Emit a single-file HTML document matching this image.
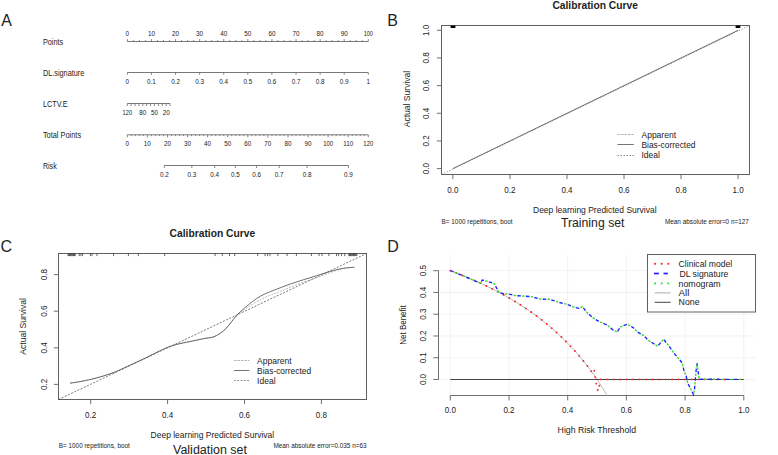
<!DOCTYPE html>
<html><head><meta charset="utf-8"><style>
html,body{margin:0;padding:0;background:#fff;}
body{width:778px;height:455px;overflow:hidden;}
svg{display:block;}
text{font-family:"Liberation Sans", sans-serif;fill:#222;}
</style></head><body>
<svg width="778" height="455" viewBox="0 0 778 455">
<rect width="778" height="455" fill="#fff"/>
<text x="1.20" y="25.70" font-size="16" textLength="10.60" lengthAdjust="spacingAndGlyphs" >A</text>
<text x="42.90" y="44.90" font-size="8.6" textLength="20.40" lengthAdjust="spacingAndGlyphs" >Points</text>
<text x="42.90" y="75.60" font-size="8.6" textLength="41.40" lengthAdjust="spacingAndGlyphs" >DL.signature</text>
<text x="42.90" y="106.80" font-size="8.6" textLength="24.80" lengthAdjust="spacingAndGlyphs" >LCTV.E</text>
<text x="42.90" y="138.00" font-size="8.6" textLength="38.20" lengthAdjust="spacingAndGlyphs" >Total Points</text>
<text x="42.90" y="168.80" font-size="8.6" textLength="13.80" lengthAdjust="spacingAndGlyphs" >Risk</text>
<line x1="127.35" y1="41.50" x2="368.30" y2="41.50" stroke="#6a6a6a" stroke-width="0.9" />
<line x1="127.35" y1="41.50" x2="127.35" y2="39.10" stroke="#6a6a6a" stroke-width="0.8" />
<text x="127.35" y="35.80" font-size="6.3" text-anchor="middle" >0</text>
<line x1="133.37" y1="41.50" x2="133.37" y2="40.10" stroke="#6a6a6a" stroke-width="0.8" />
<line x1="139.40" y1="41.50" x2="139.40" y2="40.10" stroke="#6a6a6a" stroke-width="0.8" />
<line x1="145.42" y1="41.50" x2="145.42" y2="40.10" stroke="#6a6a6a" stroke-width="0.8" />
<line x1="151.44" y1="41.50" x2="151.44" y2="39.10" stroke="#6a6a6a" stroke-width="0.8" />
<text x="151.44" y="35.80" font-size="6.3" text-anchor="middle" >10</text>
<line x1="157.47" y1="41.50" x2="157.47" y2="40.10" stroke="#6a6a6a" stroke-width="0.8" />
<line x1="163.49" y1="41.50" x2="163.49" y2="40.10" stroke="#6a6a6a" stroke-width="0.8" />
<line x1="169.52" y1="41.50" x2="169.52" y2="40.10" stroke="#6a6a6a" stroke-width="0.8" />
<line x1="175.54" y1="41.50" x2="175.54" y2="39.10" stroke="#6a6a6a" stroke-width="0.8" />
<text x="175.54" y="35.80" font-size="6.3" text-anchor="middle" >20</text>
<line x1="181.56" y1="41.50" x2="181.56" y2="40.10" stroke="#6a6a6a" stroke-width="0.8" />
<line x1="187.59" y1="41.50" x2="187.59" y2="40.10" stroke="#6a6a6a" stroke-width="0.8" />
<line x1="193.61" y1="41.50" x2="193.61" y2="40.10" stroke="#6a6a6a" stroke-width="0.8" />
<line x1="199.63" y1="41.50" x2="199.63" y2="39.10" stroke="#6a6a6a" stroke-width="0.8" />
<text x="199.63" y="35.80" font-size="6.3" text-anchor="middle" >30</text>
<line x1="205.66" y1="41.50" x2="205.66" y2="40.10" stroke="#6a6a6a" stroke-width="0.8" />
<line x1="211.68" y1="41.50" x2="211.68" y2="40.10" stroke="#6a6a6a" stroke-width="0.8" />
<line x1="217.71" y1="41.50" x2="217.71" y2="40.10" stroke="#6a6a6a" stroke-width="0.8" />
<line x1="223.73" y1="41.50" x2="223.73" y2="39.10" stroke="#6a6a6a" stroke-width="0.8" />
<text x="223.73" y="35.80" font-size="6.3" text-anchor="middle" >40</text>
<line x1="229.75" y1="41.50" x2="229.75" y2="40.10" stroke="#6a6a6a" stroke-width="0.8" />
<line x1="235.78" y1="41.50" x2="235.78" y2="40.10" stroke="#6a6a6a" stroke-width="0.8" />
<line x1="241.80" y1="41.50" x2="241.80" y2="40.10" stroke="#6a6a6a" stroke-width="0.8" />
<line x1="247.82" y1="41.50" x2="247.82" y2="39.10" stroke="#6a6a6a" stroke-width="0.8" />
<text x="247.82" y="35.80" font-size="6.3" text-anchor="middle" >50</text>
<line x1="253.85" y1="41.50" x2="253.85" y2="40.10" stroke="#6a6a6a" stroke-width="0.8" />
<line x1="259.87" y1="41.50" x2="259.87" y2="40.10" stroke="#6a6a6a" stroke-width="0.8" />
<line x1="265.90" y1="41.50" x2="265.90" y2="40.10" stroke="#6a6a6a" stroke-width="0.8" />
<line x1="271.92" y1="41.50" x2="271.92" y2="39.10" stroke="#6a6a6a" stroke-width="0.8" />
<text x="271.92" y="35.80" font-size="6.3" text-anchor="middle" >60</text>
<line x1="277.94" y1="41.50" x2="277.94" y2="40.10" stroke="#6a6a6a" stroke-width="0.8" />
<line x1="283.97" y1="41.50" x2="283.97" y2="40.10" stroke="#6a6a6a" stroke-width="0.8" />
<line x1="289.99" y1="41.50" x2="289.99" y2="40.10" stroke="#6a6a6a" stroke-width="0.8" />
<line x1="296.01" y1="41.50" x2="296.01" y2="39.10" stroke="#6a6a6a" stroke-width="0.8" />
<text x="296.01" y="35.80" font-size="6.3" text-anchor="middle" >70</text>
<line x1="302.04" y1="41.50" x2="302.04" y2="40.10" stroke="#6a6a6a" stroke-width="0.8" />
<line x1="308.06" y1="41.50" x2="308.06" y2="40.10" stroke="#6a6a6a" stroke-width="0.8" />
<line x1="314.09" y1="41.50" x2="314.09" y2="40.10" stroke="#6a6a6a" stroke-width="0.8" />
<line x1="320.11" y1="41.50" x2="320.11" y2="39.10" stroke="#6a6a6a" stroke-width="0.8" />
<text x="320.11" y="35.80" font-size="6.3" text-anchor="middle" >80</text>
<line x1="326.13" y1="41.50" x2="326.13" y2="40.10" stroke="#6a6a6a" stroke-width="0.8" />
<line x1="332.16" y1="41.50" x2="332.16" y2="40.10" stroke="#6a6a6a" stroke-width="0.8" />
<line x1="338.18" y1="41.50" x2="338.18" y2="40.10" stroke="#6a6a6a" stroke-width="0.8" />
<line x1="344.20" y1="41.50" x2="344.20" y2="39.10" stroke="#6a6a6a" stroke-width="0.8" />
<text x="344.20" y="35.80" font-size="6.3" text-anchor="middle" >90</text>
<line x1="350.23" y1="41.50" x2="350.23" y2="40.10" stroke="#6a6a6a" stroke-width="0.8" />
<line x1="356.25" y1="41.50" x2="356.25" y2="40.10" stroke="#6a6a6a" stroke-width="0.8" />
<line x1="362.28" y1="41.50" x2="362.28" y2="40.10" stroke="#6a6a6a" stroke-width="0.8" />
<line x1="368.30" y1="41.50" x2="368.30" y2="39.10" stroke="#6a6a6a" stroke-width="0.8" />
<text x="368.30" y="35.80" font-size="6.3" text-anchor="middle" textLength="9.20" lengthAdjust="spacingAndGlyphs" >100</text>
<line x1="127.35" y1="72.50" x2="368.30" y2="72.50" stroke="#6a6a6a" stroke-width="0.9" />
<line x1="127.35" y1="72.50" x2="127.35" y2="74.80" stroke="#6a6a6a" stroke-width="0.8" />
<text x="127.35" y="83.70" font-size="6.3" text-anchor="middle" >0</text>
<line x1="151.44" y1="72.50" x2="151.44" y2="74.80" stroke="#6a6a6a" stroke-width="0.8" />
<text x="151.44" y="83.70" font-size="6.3" text-anchor="middle" >0.1</text>
<line x1="175.54" y1="72.50" x2="175.54" y2="74.80" stroke="#6a6a6a" stroke-width="0.8" />
<text x="175.54" y="83.70" font-size="6.3" text-anchor="middle" >0.2</text>
<line x1="199.63" y1="72.50" x2="199.63" y2="74.80" stroke="#6a6a6a" stroke-width="0.8" />
<text x="199.63" y="83.70" font-size="6.3" text-anchor="middle" >0.3</text>
<line x1="223.73" y1="72.50" x2="223.73" y2="74.80" stroke="#6a6a6a" stroke-width="0.8" />
<text x="223.73" y="83.70" font-size="6.3" text-anchor="middle" >0.4</text>
<line x1="247.82" y1="72.50" x2="247.82" y2="74.80" stroke="#6a6a6a" stroke-width="0.8" />
<text x="247.82" y="83.70" font-size="6.3" text-anchor="middle" >0.5</text>
<line x1="271.92" y1="72.50" x2="271.92" y2="74.80" stroke="#6a6a6a" stroke-width="0.8" />
<text x="271.92" y="83.70" font-size="6.3" text-anchor="middle" >0.6</text>
<line x1="296.01" y1="72.50" x2="296.01" y2="74.80" stroke="#6a6a6a" stroke-width="0.8" />
<text x="296.01" y="83.70" font-size="6.3" text-anchor="middle" >0.7</text>
<line x1="320.11" y1="72.50" x2="320.11" y2="74.80" stroke="#6a6a6a" stroke-width="0.8" />
<text x="320.11" y="83.70" font-size="6.3" text-anchor="middle" >0.8</text>
<line x1="344.21" y1="72.50" x2="344.21" y2="74.80" stroke="#6a6a6a" stroke-width="0.8" />
<text x="344.21" y="83.70" font-size="6.3" text-anchor="middle" >0.9</text>
<line x1="368.30" y1="72.50" x2="368.30" y2="74.80" stroke="#6a6a6a" stroke-width="0.8" />
<text x="368.30" y="83.70" font-size="6.3" text-anchor="middle" >1</text>
<line x1="127.30" y1="103.50" x2="170.05" y2="103.50" stroke="#6a6a6a" stroke-width="0.9" />
<line x1="127.30" y1="103.50" x2="127.30" y2="106.00" stroke="#6a6a6a" stroke-width="0.8" />
<line x1="131.19" y1="103.50" x2="131.19" y2="106.00" stroke="#6a6a6a" stroke-width="0.8" />
<line x1="135.07" y1="103.50" x2="135.07" y2="106.00" stroke="#6a6a6a" stroke-width="0.8" />
<line x1="138.96" y1="103.50" x2="138.96" y2="106.00" stroke="#6a6a6a" stroke-width="0.8" />
<line x1="142.85" y1="103.50" x2="142.85" y2="106.00" stroke="#6a6a6a" stroke-width="0.8" />
<line x1="146.73" y1="103.50" x2="146.73" y2="106.00" stroke="#6a6a6a" stroke-width="0.8" />
<line x1="150.62" y1="103.50" x2="150.62" y2="106.00" stroke="#6a6a6a" stroke-width="0.8" />
<line x1="154.50" y1="103.50" x2="154.50" y2="106.00" stroke="#6a6a6a" stroke-width="0.8" />
<line x1="158.39" y1="103.50" x2="158.39" y2="106.00" stroke="#6a6a6a" stroke-width="0.8" />
<line x1="162.28" y1="103.50" x2="162.28" y2="106.00" stroke="#6a6a6a" stroke-width="0.8" />
<line x1="166.16" y1="103.50" x2="166.16" y2="106.00" stroke="#6a6a6a" stroke-width="0.8" />
<line x1="170.05" y1="103.50" x2="170.05" y2="106.00" stroke="#6a6a6a" stroke-width="0.8" />
<text x="127.30" y="114.70" font-size="6.3" text-anchor="middle" textLength="9.60" lengthAdjust="spacingAndGlyphs" >120</text>
<text x="142.85" y="114.70" font-size="6.3" text-anchor="middle" >80</text>
<text x="154.50" y="114.70" font-size="6.3" text-anchor="middle" >50</text>
<text x="166.16" y="114.70" font-size="6.3" text-anchor="middle" >20</text>
<line x1="127.30" y1="134.80" x2="368.30" y2="134.80" stroke="#6a6a6a" stroke-width="0.9" />
<line x1="127.30" y1="134.80" x2="127.30" y2="137.30" stroke="#6a6a6a" stroke-width="0.8" />
<text x="127.30" y="145.60" font-size="6.3" text-anchor="middle" >0</text>
<line x1="131.32" y1="134.80" x2="131.32" y2="136.10" stroke="#6a6a6a" stroke-width="0.8" />
<line x1="135.33" y1="134.80" x2="135.33" y2="136.10" stroke="#6a6a6a" stroke-width="0.8" />
<line x1="139.35" y1="134.80" x2="139.35" y2="136.10" stroke="#6a6a6a" stroke-width="0.8" />
<line x1="143.37" y1="134.80" x2="143.37" y2="136.10" stroke="#6a6a6a" stroke-width="0.8" />
<line x1="147.38" y1="134.80" x2="147.38" y2="137.30" stroke="#6a6a6a" stroke-width="0.8" />
<text x="147.38" y="145.60" font-size="6.3" text-anchor="middle" >10</text>
<line x1="151.40" y1="134.80" x2="151.40" y2="136.10" stroke="#6a6a6a" stroke-width="0.8" />
<line x1="155.42" y1="134.80" x2="155.42" y2="136.10" stroke="#6a6a6a" stroke-width="0.8" />
<line x1="159.43" y1="134.80" x2="159.43" y2="136.10" stroke="#6a6a6a" stroke-width="0.8" />
<line x1="163.45" y1="134.80" x2="163.45" y2="136.10" stroke="#6a6a6a" stroke-width="0.8" />
<line x1="167.47" y1="134.80" x2="167.47" y2="137.30" stroke="#6a6a6a" stroke-width="0.8" />
<text x="167.47" y="145.60" font-size="6.3" text-anchor="middle" >20</text>
<line x1="171.48" y1="134.80" x2="171.48" y2="136.10" stroke="#6a6a6a" stroke-width="0.8" />
<line x1="175.50" y1="134.80" x2="175.50" y2="136.10" stroke="#6a6a6a" stroke-width="0.8" />
<line x1="179.52" y1="134.80" x2="179.52" y2="136.10" stroke="#6a6a6a" stroke-width="0.8" />
<line x1="183.53" y1="134.80" x2="183.53" y2="136.10" stroke="#6a6a6a" stroke-width="0.8" />
<line x1="187.55" y1="134.80" x2="187.55" y2="137.30" stroke="#6a6a6a" stroke-width="0.8" />
<text x="187.55" y="145.60" font-size="6.3" text-anchor="middle" >30</text>
<line x1="191.57" y1="134.80" x2="191.57" y2="136.10" stroke="#6a6a6a" stroke-width="0.8" />
<line x1="195.58" y1="134.80" x2="195.58" y2="136.10" stroke="#6a6a6a" stroke-width="0.8" />
<line x1="199.60" y1="134.80" x2="199.60" y2="136.10" stroke="#6a6a6a" stroke-width="0.8" />
<line x1="203.62" y1="134.80" x2="203.62" y2="136.10" stroke="#6a6a6a" stroke-width="0.8" />
<line x1="207.63" y1="134.80" x2="207.63" y2="137.30" stroke="#6a6a6a" stroke-width="0.8" />
<text x="207.63" y="145.60" font-size="6.3" text-anchor="middle" >40</text>
<line x1="211.65" y1="134.80" x2="211.65" y2="136.10" stroke="#6a6a6a" stroke-width="0.8" />
<line x1="215.67" y1="134.80" x2="215.67" y2="136.10" stroke="#6a6a6a" stroke-width="0.8" />
<line x1="219.68" y1="134.80" x2="219.68" y2="136.10" stroke="#6a6a6a" stroke-width="0.8" />
<line x1="223.70" y1="134.80" x2="223.70" y2="136.10" stroke="#6a6a6a" stroke-width="0.8" />
<line x1="227.72" y1="134.80" x2="227.72" y2="137.30" stroke="#6a6a6a" stroke-width="0.8" />
<text x="227.72" y="145.60" font-size="6.3" text-anchor="middle" >50</text>
<line x1="231.73" y1="134.80" x2="231.73" y2="136.10" stroke="#6a6a6a" stroke-width="0.8" />
<line x1="235.75" y1="134.80" x2="235.75" y2="136.10" stroke="#6a6a6a" stroke-width="0.8" />
<line x1="239.77" y1="134.80" x2="239.77" y2="136.10" stroke="#6a6a6a" stroke-width="0.8" />
<line x1="243.78" y1="134.80" x2="243.78" y2="136.10" stroke="#6a6a6a" stroke-width="0.8" />
<line x1="247.80" y1="134.80" x2="247.80" y2="137.30" stroke="#6a6a6a" stroke-width="0.8" />
<text x="247.80" y="145.60" font-size="6.3" text-anchor="middle" >60</text>
<line x1="251.82" y1="134.80" x2="251.82" y2="136.10" stroke="#6a6a6a" stroke-width="0.8" />
<line x1="255.83" y1="134.80" x2="255.83" y2="136.10" stroke="#6a6a6a" stroke-width="0.8" />
<line x1="259.85" y1="134.80" x2="259.85" y2="136.10" stroke="#6a6a6a" stroke-width="0.8" />
<line x1="263.87" y1="134.80" x2="263.87" y2="136.10" stroke="#6a6a6a" stroke-width="0.8" />
<line x1="267.88" y1="134.80" x2="267.88" y2="137.30" stroke="#6a6a6a" stroke-width="0.8" />
<text x="267.88" y="145.60" font-size="6.3" text-anchor="middle" >70</text>
<line x1="271.90" y1="134.80" x2="271.90" y2="136.10" stroke="#6a6a6a" stroke-width="0.8" />
<line x1="275.92" y1="134.80" x2="275.92" y2="136.10" stroke="#6a6a6a" stroke-width="0.8" />
<line x1="279.93" y1="134.80" x2="279.93" y2="136.10" stroke="#6a6a6a" stroke-width="0.8" />
<line x1="283.95" y1="134.80" x2="283.95" y2="136.10" stroke="#6a6a6a" stroke-width="0.8" />
<line x1="287.97" y1="134.80" x2="287.97" y2="137.30" stroke="#6a6a6a" stroke-width="0.8" />
<text x="287.97" y="145.60" font-size="6.3" text-anchor="middle" >80</text>
<line x1="291.98" y1="134.80" x2="291.98" y2="136.10" stroke="#6a6a6a" stroke-width="0.8" />
<line x1="296.00" y1="134.80" x2="296.00" y2="136.10" stroke="#6a6a6a" stroke-width="0.8" />
<line x1="300.02" y1="134.80" x2="300.02" y2="136.10" stroke="#6a6a6a" stroke-width="0.8" />
<line x1="304.03" y1="134.80" x2="304.03" y2="136.10" stroke="#6a6a6a" stroke-width="0.8" />
<line x1="308.05" y1="134.80" x2="308.05" y2="137.30" stroke="#6a6a6a" stroke-width="0.8" />
<text x="308.05" y="145.60" font-size="6.3" text-anchor="middle" >90</text>
<line x1="312.07" y1="134.80" x2="312.07" y2="136.10" stroke="#6a6a6a" stroke-width="0.8" />
<line x1="316.08" y1="134.80" x2="316.08" y2="136.10" stroke="#6a6a6a" stroke-width="0.8" />
<line x1="320.10" y1="134.80" x2="320.10" y2="136.10" stroke="#6a6a6a" stroke-width="0.8" />
<line x1="324.12" y1="134.80" x2="324.12" y2="136.10" stroke="#6a6a6a" stroke-width="0.8" />
<line x1="328.13" y1="134.80" x2="328.13" y2="137.30" stroke="#6a6a6a" stroke-width="0.8" />
<text x="328.13" y="145.60" font-size="6.3" text-anchor="middle" textLength="9.90" lengthAdjust="spacingAndGlyphs" >100</text>
<line x1="332.15" y1="134.80" x2="332.15" y2="136.10" stroke="#6a6a6a" stroke-width="0.8" />
<line x1="336.17" y1="134.80" x2="336.17" y2="136.10" stroke="#6a6a6a" stroke-width="0.8" />
<line x1="340.18" y1="134.80" x2="340.18" y2="136.10" stroke="#6a6a6a" stroke-width="0.8" />
<line x1="344.20" y1="134.80" x2="344.20" y2="136.10" stroke="#6a6a6a" stroke-width="0.8" />
<line x1="348.22" y1="134.80" x2="348.22" y2="137.30" stroke="#6a6a6a" stroke-width="0.8" />
<text x="348.22" y="145.60" font-size="6.3" text-anchor="middle" textLength="9.90" lengthAdjust="spacingAndGlyphs" >110</text>
<line x1="352.23" y1="134.80" x2="352.23" y2="136.10" stroke="#6a6a6a" stroke-width="0.8" />
<line x1="356.25" y1="134.80" x2="356.25" y2="136.10" stroke="#6a6a6a" stroke-width="0.8" />
<line x1="360.27" y1="134.80" x2="360.27" y2="136.10" stroke="#6a6a6a" stroke-width="0.8" />
<line x1="364.28" y1="134.80" x2="364.28" y2="136.10" stroke="#6a6a6a" stroke-width="0.8" />
<line x1="368.30" y1="134.80" x2="368.30" y2="137.30" stroke="#6a6a6a" stroke-width="0.8" />
<text x="368.30" y="145.60" font-size="6.3" text-anchor="middle" textLength="9.90" lengthAdjust="spacingAndGlyphs" >120</text>
<line x1="164.30" y1="165.50" x2="348.50" y2="165.50" stroke="#6a6a6a" stroke-width="0.9" />
<line x1="164.30" y1="165.50" x2="164.30" y2="168.00" stroke="#6a6a6a" stroke-width="0.8" />
<text x="164.30" y="176.80" font-size="6.3" text-anchor="middle" >0.2</text>
<line x1="191.80" y1="165.50" x2="191.80" y2="168.00" stroke="#6a6a6a" stroke-width="0.8" />
<text x="191.80" y="176.80" font-size="6.3" text-anchor="middle" >0.3</text>
<line x1="214.70" y1="165.50" x2="214.70" y2="168.00" stroke="#6a6a6a" stroke-width="0.8" />
<text x="214.70" y="176.80" font-size="6.3" text-anchor="middle" >0.4</text>
<line x1="235.30" y1="165.50" x2="235.30" y2="168.00" stroke="#6a6a6a" stroke-width="0.8" />
<text x="235.30" y="176.80" font-size="6.3" text-anchor="middle" >0.5</text>
<line x1="256.60" y1="165.50" x2="256.60" y2="168.00" stroke="#6a6a6a" stroke-width="0.8" />
<text x="256.60" y="176.80" font-size="6.3" text-anchor="middle" >0.6</text>
<line x1="279.20" y1="165.50" x2="279.20" y2="168.00" stroke="#6a6a6a" stroke-width="0.8" />
<text x="279.20" y="176.80" font-size="6.3" text-anchor="middle" >0.7</text>
<line x1="307.10" y1="165.50" x2="307.10" y2="168.00" stroke="#6a6a6a" stroke-width="0.8" />
<text x="307.10" y="176.80" font-size="6.3" text-anchor="middle" >0.8</text>
<line x1="348.50" y1="165.50" x2="348.50" y2="168.00" stroke="#6a6a6a" stroke-width="0.8" />
<text x="348.50" y="176.80" font-size="6.3" text-anchor="middle" >0.9</text>
<text x="387.30" y="25.60" font-size="16" >B</text>
<text x="552.40" y="8.80" font-size="10.2" textLength="85.60" lengthAdjust="spacingAndGlyphs" font-weight="bold" fill="#111" >Calibration Curve</text>
<rect x="441.5" y="25.5" width="308.0" height="149.0" fill="none" stroke="#606060" stroke-width="1"/>
<line x1="441.50" y1="168.60" x2="436.90" y2="168.60" stroke="#606060" stroke-width="0.9" />
<text x="429.40" y="168.60" font-size="8.4" text-anchor="middle" textLength="11.20" lengthAdjust="spacingAndGlyphs" transform="rotate(-90 429.40 168.60)" >0.0</text>
<line x1="452.90" y1="174.50" x2="452.90" y2="179.10" stroke="#606060" stroke-width="0.9" />
<text x="452.90" y="192.90" font-size="8.4" text-anchor="middle" textLength="11.20" lengthAdjust="spacingAndGlyphs" >0.0</text>
<line x1="441.50" y1="140.94" x2="436.90" y2="140.94" stroke="#606060" stroke-width="0.9" />
<text x="429.40" y="140.94" font-size="8.4" text-anchor="middle" textLength="11.20" lengthAdjust="spacingAndGlyphs" transform="rotate(-90 429.40 140.94)" >0.2</text>
<line x1="509.94" y1="174.50" x2="509.94" y2="179.10" stroke="#606060" stroke-width="0.9" />
<text x="509.94" y="192.90" font-size="8.4" text-anchor="middle" textLength="11.20" lengthAdjust="spacingAndGlyphs" >0.2</text>
<line x1="441.50" y1="113.28" x2="436.90" y2="113.28" stroke="#606060" stroke-width="0.9" />
<text x="429.40" y="113.28" font-size="8.4" text-anchor="middle" textLength="11.20" lengthAdjust="spacingAndGlyphs" transform="rotate(-90 429.40 113.28)" >0.4</text>
<line x1="566.98" y1="174.50" x2="566.98" y2="179.10" stroke="#606060" stroke-width="0.9" />
<text x="566.98" y="192.90" font-size="8.4" text-anchor="middle" textLength="11.20" lengthAdjust="spacingAndGlyphs" >0.4</text>
<line x1="441.50" y1="85.62" x2="436.90" y2="85.62" stroke="#606060" stroke-width="0.9" />
<text x="429.40" y="85.62" font-size="8.4" text-anchor="middle" textLength="11.20" lengthAdjust="spacingAndGlyphs" transform="rotate(-90 429.40 85.62)" >0.6</text>
<line x1="624.02" y1="174.50" x2="624.02" y2="179.10" stroke="#606060" stroke-width="0.9" />
<text x="624.02" y="192.90" font-size="8.4" text-anchor="middle" textLength="11.20" lengthAdjust="spacingAndGlyphs" >0.6</text>
<line x1="441.50" y1="57.96" x2="436.90" y2="57.96" stroke="#606060" stroke-width="0.9" />
<text x="429.40" y="57.96" font-size="8.4" text-anchor="middle" textLength="11.20" lengthAdjust="spacingAndGlyphs" transform="rotate(-90 429.40 57.96)" >0.8</text>
<line x1="681.06" y1="174.50" x2="681.06" y2="179.10" stroke="#606060" stroke-width="0.9" />
<text x="681.06" y="192.90" font-size="8.4" text-anchor="middle" textLength="11.20" lengthAdjust="spacingAndGlyphs" >0.8</text>
<line x1="441.50" y1="30.30" x2="436.90" y2="30.30" stroke="#606060" stroke-width="0.9" />
<text x="429.40" y="30.30" font-size="8.4" text-anchor="middle" textLength="11.20" lengthAdjust="spacingAndGlyphs" transform="rotate(-90 429.40 30.30)" >1.0</text>
<line x1="738.10" y1="174.50" x2="738.10" y2="179.10" stroke="#606060" stroke-width="0.9" />
<text x="738.10" y="192.90" font-size="8.4" text-anchor="middle" textLength="11.20" lengthAdjust="spacingAndGlyphs" >1.0</text>
<text x="409.60" y="99.00" font-size="8.4" text-anchor="middle" textLength="56.50" lengthAdjust="spacingAndGlyphs" transform="rotate(-90 409.60 99.00)" >Actual Survival</text>
<text x="533.00" y="213.10" font-size="8.4" textLength="123.60" lengthAdjust="spacingAndGlyphs" >Deep learning Predicted Survival</text>
<text x="441.60" y="223.90" font-size="6.6" textLength="71.00" lengthAdjust="spacingAndGlyphs" >B= 1000 repetitions, boot</text>
<text x="560.90" y="226.90" font-size="12" textLength="63.60" lengthAdjust="spacingAndGlyphs" >Training set</text>
<text x="665.00" y="223.50" font-size="6.6" textLength="83.80" lengthAdjust="spacingAndGlyphs" >Mean absolute error=0 n=127</text>
<line x1="441.50" y1="174.50" x2="749.50" y2="25.50" stroke="#777" stroke-width="0.8" stroke-dasharray="1.2 1.6"/>
<line x1="452.90" y1="168.60" x2="738.10" y2="30.30" stroke="#555" stroke-width="0.85" />
<rect x="450.6" y="25.5" width="4.8" height="2.5" fill="#000"/>
<rect x="735.6" y="25.5" width="4.7" height="2.5" fill="#000"/>
<line x1="617.50" y1="134.50" x2="633.90" y2="134.50" stroke="#aaa" stroke-width="0.9" stroke-dasharray="2.5 1"/>
<text x="641.50" y="137.60" font-size="8.6" textLength="34.50" lengthAdjust="spacingAndGlyphs" >Apparent</text>
<line x1="617.50" y1="144.50" x2="633.90" y2="144.50" stroke="#666" stroke-width="0.9" />
<text x="641.50" y="147.90" font-size="8.6" textLength="54.00" lengthAdjust="spacingAndGlyphs" >Bias-corrected</text>
<line x1="617.50" y1="155.50" x2="633.90" y2="155.50" stroke="#888" stroke-width="1.1" stroke-dasharray="1.5 1.5"/>
<text x="641.50" y="158.20" font-size="8.6" textLength="18.50" lengthAdjust="spacingAndGlyphs" >Ideal</text>
<text x="0.60" y="251.70" font-size="16" >C</text>
<text x="169.60" y="237.40" font-size="10.2" textLength="85.60" lengthAdjust="spacingAndGlyphs" font-weight="bold" fill="#111" >Calibration Curve</text>
<rect x="58.5" y="253.5" width="308.0" height="146.0" fill="none" stroke="#606060" stroke-width="1"/>
<line x1="58.50" y1="384.40" x2="53.90" y2="384.40" stroke="#606060" stroke-width="0.9" />
<text x="46.60" y="384.40" font-size="8.4" text-anchor="middle" textLength="11.20" lengthAdjust="spacingAndGlyphs" transform="rotate(-90 46.60 384.40)" >0.2</text>
<line x1="90.70" y1="399.50" x2="90.70" y2="404.10" stroke="#606060" stroke-width="0.9" />
<text x="90.70" y="418.00" font-size="8.4" text-anchor="middle" textLength="11.20" lengthAdjust="spacingAndGlyphs" >0.2</text>
<line x1="58.50" y1="347.80" x2="53.90" y2="347.80" stroke="#606060" stroke-width="0.9" />
<text x="46.60" y="347.80" font-size="8.4" text-anchor="middle" textLength="11.20" lengthAdjust="spacingAndGlyphs" transform="rotate(-90 46.60 347.80)" >0.4</text>
<line x1="167.60" y1="399.50" x2="167.60" y2="404.10" stroke="#606060" stroke-width="0.9" />
<text x="167.60" y="418.00" font-size="8.4" text-anchor="middle" textLength="11.20" lengthAdjust="spacingAndGlyphs" >0.4</text>
<line x1="58.50" y1="311.20" x2="53.90" y2="311.20" stroke="#606060" stroke-width="0.9" />
<text x="46.60" y="311.20" font-size="8.4" text-anchor="middle" textLength="11.20" lengthAdjust="spacingAndGlyphs" transform="rotate(-90 46.60 311.20)" >0.6</text>
<line x1="244.50" y1="399.50" x2="244.50" y2="404.10" stroke="#606060" stroke-width="0.9" />
<text x="244.50" y="418.00" font-size="8.4" text-anchor="middle" textLength="11.20" lengthAdjust="spacingAndGlyphs" >0.6</text>
<line x1="58.50" y1="274.60" x2="53.90" y2="274.60" stroke="#606060" stroke-width="0.9" />
<text x="46.60" y="274.60" font-size="8.4" text-anchor="middle" textLength="11.20" lengthAdjust="spacingAndGlyphs" transform="rotate(-90 46.60 274.60)" >0.8</text>
<line x1="321.40" y1="399.50" x2="321.40" y2="404.10" stroke="#606060" stroke-width="0.9" />
<text x="321.40" y="418.00" font-size="8.4" text-anchor="middle" textLength="11.20" lengthAdjust="spacingAndGlyphs" >0.8</text>
<text x="26.10" y="326.40" font-size="8.4" text-anchor="middle" textLength="56.50" lengthAdjust="spacingAndGlyphs" transform="rotate(-90 26.10 326.40)" >Actual Survival</text>
<text x="150.60" y="438.10" font-size="8.4" textLength="123.60" lengthAdjust="spacingAndGlyphs" >Deep learning Predicted Survival</text>
<text x="58.80" y="448.00" font-size="6.6" textLength="71.00" lengthAdjust="spacingAndGlyphs" >B= 1000 repetitions, boot</text>
<text x="173.00" y="453.80" font-size="12" textLength="74.00" lengthAdjust="spacingAndGlyphs" >Validation set</text>
<text x="273.40" y="447.50" font-size="6.6" textLength="93.20" lengthAdjust="spacingAndGlyphs" >Mean absolute error=0.035 n=63</text>
<line x1="58.50" y1="399.50" x2="366.50" y2="253.50" stroke="#555" stroke-width="0.8" stroke-dasharray="2 1.5"/>
<path d="M70.00,383.20 C71.67,382.93 76.53,382.23 80.00,381.60 C83.47,380.97 87.13,380.27 90.80,379.40 C94.47,378.53 98.13,377.57 102.00,376.40 C105.87,375.23 110.20,373.87 114.00,372.40 C117.80,370.93 119.67,369.95 124.80,367.60 C129.93,365.25 138.12,361.48 144.80,358.30 C151.48,355.12 159.43,350.85 164.90,348.50 C170.37,346.15 172.58,345.53 177.60,344.20 C182.62,342.87 190.43,341.47 195.00,340.50 C199.57,339.53 202.02,338.97 205.00,338.40 C207.98,337.83 210.48,337.87 212.90,337.10 C215.32,336.33 217.30,335.23 219.50,333.80 C221.70,332.37 224.12,330.48 226.10,328.50 C228.08,326.52 229.53,324.07 231.40,321.90 C233.27,319.73 235.12,317.55 237.30,315.50 C239.48,313.45 241.97,311.48 244.50,309.60 C247.03,307.72 249.08,306.23 252.50,304.20 C255.92,302.17 260.77,299.38 265.00,297.40 C269.23,295.42 273.62,294.02 277.90,292.30 C282.18,290.58 286.42,288.82 290.70,287.10 C294.98,285.38 299.32,283.53 303.60,282.00 C307.88,280.47 312.12,279.40 316.40,277.90 C320.68,276.40 325.02,274.52 329.30,273.00 C333.58,271.48 337.93,269.77 342.10,268.80 C346.27,267.83 352.27,267.47 354.30,267.20" fill="none" stroke="#aaa" stroke-width="0.8" stroke-dasharray="2 1.2"/>
<path d="M70.00,383.20 C71.67,382.93 76.53,382.23 80.00,381.60 C83.47,380.97 87.13,380.27 90.80,379.40 C94.47,378.53 98.13,377.57 102.00,376.40 C105.87,375.23 110.20,373.87 114.00,372.40 C117.80,370.93 119.67,369.95 124.80,367.60 C129.93,365.25 138.12,361.48 144.80,358.30 C151.48,355.12 159.43,350.85 164.90,348.50 C170.37,346.15 172.58,345.53 177.60,344.20 C182.62,342.87 190.43,341.47 195.00,340.50 C199.57,339.53 202.02,338.97 205.00,338.40 C207.98,337.83 210.48,337.87 212.90,337.10 C215.32,336.33 217.30,335.23 219.50,333.80 C221.70,332.37 224.12,330.48 226.10,328.50 C228.08,326.52 229.53,324.20 231.40,321.90 C233.27,319.60 235.12,317.00 237.30,314.70 C239.48,312.40 241.97,310.30 244.50,308.10 C247.03,305.90 249.85,303.48 252.50,301.50 C255.15,299.52 257.77,297.70 260.40,296.20 C263.03,294.70 265.38,293.75 268.30,292.50 C271.22,291.25 274.17,290.13 277.90,288.70 C281.63,287.27 286.42,285.40 290.70,283.90 C294.98,282.40 299.32,281.05 303.60,279.70 C307.88,278.35 312.12,277.13 316.40,275.80 C320.68,274.47 325.02,272.92 329.30,271.70 C333.58,270.48 337.93,269.25 342.10,268.50 C346.27,267.75 352.27,267.42 354.30,267.20" fill="none" stroke="#555" stroke-width="0.85" />
<line x1="68.00" y1="253.50" x2="68.00" y2="256.10" stroke="#222" stroke-width="0.7" />
<line x1="68.80" y1="253.50" x2="68.80" y2="256.10" stroke="#222" stroke-width="0.7" />
<line x1="69.60" y1="253.50" x2="69.60" y2="256.10" stroke="#222" stroke-width="0.7" />
<line x1="70.40" y1="253.50" x2="70.40" y2="256.10" stroke="#222" stroke-width="0.7" />
<line x1="71.20" y1="253.50" x2="71.20" y2="256.10" stroke="#222" stroke-width="0.7" />
<line x1="72.00" y1="253.50" x2="72.00" y2="256.10" stroke="#222" stroke-width="0.7" />
<line x1="72.80" y1="253.50" x2="72.80" y2="256.10" stroke="#222" stroke-width="0.7" />
<line x1="73.60" y1="253.50" x2="73.60" y2="256.10" stroke="#222" stroke-width="0.7" />
<line x1="74.40" y1="253.50" x2="74.40" y2="256.10" stroke="#222" stroke-width="0.7" />
<line x1="75.20" y1="253.50" x2="75.20" y2="256.10" stroke="#222" stroke-width="0.7" />
<line x1="79.30" y1="253.50" x2="79.30" y2="256.10" stroke="#222" stroke-width="0.7" />
<line x1="80.90" y1="253.50" x2="80.90" y2="256.10" stroke="#222" stroke-width="0.7" />
<line x1="82.60" y1="253.50" x2="82.60" y2="256.10" stroke="#222" stroke-width="0.7" />
<line x1="90.40" y1="253.50" x2="90.40" y2="256.10" stroke="#222" stroke-width="0.7" />
<line x1="92.00" y1="253.50" x2="92.00" y2="256.10" stroke="#222" stroke-width="0.7" />
<line x1="97.00" y1="253.50" x2="97.00" y2="256.10" stroke="#222" stroke-width="0.7" />
<line x1="113.60" y1="253.50" x2="113.60" y2="256.10" stroke="#222" stroke-width="0.7" />
<line x1="128.40" y1="253.50" x2="128.40" y2="256.10" stroke="#222" stroke-width="0.7" />
<line x1="138.30" y1="253.50" x2="138.30" y2="256.10" stroke="#222" stroke-width="0.7" />
<line x1="164.60" y1="253.50" x2="164.60" y2="256.10" stroke="#222" stroke-width="0.7" />
<line x1="215.10" y1="253.50" x2="215.10" y2="256.10" stroke="#222" stroke-width="0.7" />
<line x1="222.30" y1="253.50" x2="222.30" y2="256.10" stroke="#222" stroke-width="0.7" />
<line x1="229.50" y1="253.50" x2="229.50" y2="256.10" stroke="#222" stroke-width="0.7" />
<line x1="234.70" y1="253.50" x2="234.70" y2="256.10" stroke="#222" stroke-width="0.7" />
<line x1="257.70" y1="253.50" x2="257.70" y2="256.10" stroke="#222" stroke-width="0.7" />
<line x1="265.10" y1="253.50" x2="265.10" y2="256.10" stroke="#222" stroke-width="0.7" />
<line x1="267.60" y1="253.50" x2="267.60" y2="256.10" stroke="#222" stroke-width="0.7" />
<line x1="270.00" y1="253.50" x2="270.00" y2="256.10" stroke="#222" stroke-width="0.7" />
<line x1="277.90" y1="253.50" x2="277.90" y2="256.10" stroke="#222" stroke-width="0.7" />
<line x1="287.10" y1="253.50" x2="287.10" y2="256.10" stroke="#222" stroke-width="0.7" />
<line x1="296.40" y1="253.50" x2="296.40" y2="256.10" stroke="#222" stroke-width="0.7" />
<line x1="311.40" y1="253.50" x2="311.40" y2="256.10" stroke="#222" stroke-width="0.7" />
<line x1="319.00" y1="253.50" x2="319.00" y2="256.10" stroke="#222" stroke-width="0.7" />
<line x1="322.00" y1="253.50" x2="322.00" y2="256.10" stroke="#222" stroke-width="0.7" />
<line x1="328.90" y1="253.50" x2="328.90" y2="256.10" stroke="#222" stroke-width="0.7" />
<line x1="336.50" y1="253.50" x2="336.50" y2="256.10" stroke="#222" stroke-width="0.7" />
<line x1="338.60" y1="253.50" x2="338.60" y2="256.10" stroke="#222" stroke-width="0.7" />
<line x1="341.60" y1="253.50" x2="341.60" y2="256.10" stroke="#222" stroke-width="0.7" />
<line x1="344.70" y1="253.50" x2="344.70" y2="256.10" stroke="#222" stroke-width="0.7" />
<line x1="348.80" y1="253.50" x2="348.80" y2="256.10" stroke="#222" stroke-width="0.7" />
<line x1="349.60" y1="253.50" x2="349.60" y2="256.10" stroke="#222" stroke-width="0.7" />
<line x1="350.40" y1="253.50" x2="350.40" y2="256.10" stroke="#222" stroke-width="0.7" />
<line x1="351.20" y1="253.50" x2="351.20" y2="256.10" stroke="#222" stroke-width="0.7" />
<line x1="352.00" y1="253.50" x2="352.00" y2="256.10" stroke="#222" stroke-width="0.7" />
<line x1="352.80" y1="253.50" x2="352.80" y2="256.10" stroke="#222" stroke-width="0.7" />
<line x1="353.60" y1="253.50" x2="353.60" y2="256.10" stroke="#222" stroke-width="0.7" />
<line x1="354.40" y1="253.50" x2="354.40" y2="256.10" stroke="#222" stroke-width="0.7" />
<line x1="355.20" y1="253.50" x2="355.20" y2="256.10" stroke="#222" stroke-width="0.7" />
<line x1="356.00" y1="253.50" x2="356.00" y2="256.10" stroke="#222" stroke-width="0.7" />
<line x1="356.80" y1="253.50" x2="356.80" y2="256.10" stroke="#222" stroke-width="0.7" />
<line x1="233.90" y1="360.50" x2="249.30" y2="360.50" stroke="#aaa" stroke-width="0.9" stroke-dasharray="2.5 1"/>
<text x="257.10" y="363.90" font-size="8.6" textLength="34.50" lengthAdjust="spacingAndGlyphs" >Apparent</text>
<line x1="233.90" y1="370.50" x2="249.30" y2="370.50" stroke="#666" stroke-width="0.9" />
<text x="257.10" y="374.00" font-size="8.6" textLength="54.00" lengthAdjust="spacingAndGlyphs" >Bias-corrected</text>
<line x1="233.90" y1="380.50" x2="249.30" y2="380.50" stroke="#888" stroke-width="0.9" stroke-dasharray="2 1.3"/>
<text x="257.10" y="384.10" font-size="8.6" textLength="18.50" lengthAdjust="spacingAndGlyphs" >Ideal</text>
<text x="387.30" y="251.50" font-size="16" >D</text>
<line x1="450.30" y1="254.40" x2="450.30" y2="395.50" stroke="#efefef" stroke-width="0.8" />
<line x1="438.50" y1="379.50" x2="755.50" y2="379.50" stroke="#efefef" stroke-width="0.8" />
<line x1="509.00" y1="254.40" x2="509.00" y2="395.50" stroke="#efefef" stroke-width="0.8" />
<line x1="438.50" y1="357.74" x2="755.50" y2="357.74" stroke="#efefef" stroke-width="0.8" />
<line x1="567.70" y1="254.40" x2="567.70" y2="395.50" stroke="#efefef" stroke-width="0.8" />
<line x1="438.50" y1="335.98" x2="755.50" y2="335.98" stroke="#efefef" stroke-width="0.8" />
<line x1="626.40" y1="254.40" x2="626.40" y2="395.50" stroke="#efefef" stroke-width="0.8" />
<line x1="438.50" y1="314.22" x2="755.50" y2="314.22" stroke="#efefef" stroke-width="0.8" />
<line x1="685.10" y1="254.40" x2="685.10" y2="395.50" stroke="#efefef" stroke-width="0.8" />
<line x1="438.50" y1="292.46" x2="755.50" y2="292.46" stroke="#efefef" stroke-width="0.8" />
<line x1="743.80" y1="254.40" x2="743.80" y2="395.50" stroke="#efefef" stroke-width="0.8" />
<line x1="438.50" y1="270.70" x2="755.50" y2="270.70" stroke="#efefef" stroke-width="0.8" />
<line x1="438.50" y1="379.50" x2="438.50" y2="270.70" stroke="#606060" stroke-width="0.9" />
<line x1="438.50" y1="379.50" x2="433.30" y2="379.50" stroke="#606060" stroke-width="0.9" />
<text x="426.30" y="379.50" font-size="8.4" text-anchor="middle" textLength="11.20" lengthAdjust="spacingAndGlyphs" transform="rotate(-90 426.30 379.50)" >0.0</text>
<line x1="438.50" y1="357.74" x2="433.30" y2="357.74" stroke="#606060" stroke-width="0.9" />
<text x="426.30" y="357.74" font-size="8.4" text-anchor="middle" textLength="11.20" lengthAdjust="spacingAndGlyphs" transform="rotate(-90 426.30 357.74)" >0.1</text>
<line x1="438.50" y1="335.98" x2="433.30" y2="335.98" stroke="#606060" stroke-width="0.9" />
<text x="426.30" y="335.98" font-size="8.4" text-anchor="middle" textLength="11.20" lengthAdjust="spacingAndGlyphs" transform="rotate(-90 426.30 335.98)" >0.2</text>
<line x1="438.50" y1="314.22" x2="433.30" y2="314.22" stroke="#606060" stroke-width="0.9" />
<text x="426.30" y="314.22" font-size="8.4" text-anchor="middle" textLength="11.20" lengthAdjust="spacingAndGlyphs" transform="rotate(-90 426.30 314.22)" >0.3</text>
<line x1="438.50" y1="292.46" x2="433.30" y2="292.46" stroke="#606060" stroke-width="0.9" />
<text x="426.30" y="292.46" font-size="8.4" text-anchor="middle" textLength="11.20" lengthAdjust="spacingAndGlyphs" transform="rotate(-90 426.30 292.46)" >0.4</text>
<line x1="438.50" y1="270.70" x2="433.30" y2="270.70" stroke="#606060" stroke-width="0.9" />
<text x="426.30" y="270.70" font-size="8.4" text-anchor="middle" textLength="11.20" lengthAdjust="spacingAndGlyphs" transform="rotate(-90 426.30 270.70)" >0.5</text>
<line x1="450.30" y1="395.50" x2="743.80" y2="395.50" stroke="#606060" stroke-width="0.9" />
<line x1="450.30" y1="395.50" x2="450.30" y2="400.40" stroke="#606060" stroke-width="0.9" />
<text x="450.30" y="413.10" font-size="8.4" text-anchor="middle" textLength="11.20" lengthAdjust="spacingAndGlyphs" >0.0</text>
<line x1="509.00" y1="395.50" x2="509.00" y2="400.40" stroke="#606060" stroke-width="0.9" />
<text x="509.00" y="413.10" font-size="8.4" text-anchor="middle" textLength="11.20" lengthAdjust="spacingAndGlyphs" >0.2</text>
<line x1="567.70" y1="395.50" x2="567.70" y2="400.40" stroke="#606060" stroke-width="0.9" />
<text x="567.70" y="413.10" font-size="8.4" text-anchor="middle" textLength="11.20" lengthAdjust="spacingAndGlyphs" >0.4</text>
<line x1="626.40" y1="395.50" x2="626.40" y2="400.40" stroke="#606060" stroke-width="0.9" />
<text x="626.40" y="413.10" font-size="8.4" text-anchor="middle" textLength="11.20" lengthAdjust="spacingAndGlyphs" >0.6</text>
<line x1="685.10" y1="395.50" x2="685.10" y2="400.40" stroke="#606060" stroke-width="0.9" />
<text x="685.10" y="413.10" font-size="8.4" text-anchor="middle" textLength="11.20" lengthAdjust="spacingAndGlyphs" >0.8</text>
<line x1="743.80" y1="395.50" x2="743.80" y2="400.40" stroke="#606060" stroke-width="0.9" />
<text x="743.80" y="413.10" font-size="8.4" text-anchor="middle" textLength="11.20" lengthAdjust="spacingAndGlyphs" >1.0</text>
<text x="405.70" y="325.00" font-size="8.8" text-anchor="middle" textLength="39.50" lengthAdjust="spacingAndGlyphs" transform="rotate(-90 405.70 325.00)" >Net Benefit</text>
<text x="557.60" y="432.80" font-size="8.4" textLength="78.50" lengthAdjust="spacingAndGlyphs" >High Risk Threshold</text>
<polyline points="450.30,270.70 451.77,271.25 453.24,271.80 454.70,272.36 456.17,272.92 457.64,273.49 459.11,274.06 460.57,274.65 462.04,275.23 463.51,275.83 464.98,276.43 466.44,277.03 467.91,277.64 469.38,278.26 470.85,278.89 472.31,279.52 473.78,280.16 475.25,280.81 476.72,281.46 478.18,282.12 479.65,282.79 481.12,283.46 482.59,284.15 484.05,284.84 485.52,285.54 486.99,286.24 488.46,286.96 489.92,287.68 491.39,288.41 492.86,289.15 494.33,289.90 495.79,290.66 497.26,291.42 498.73,292.20 500.20,292.98 501.66,293.78 503.13,294.58 504.60,295.40 506.07,296.22 507.53,297.06 509.00,297.90 510.47,298.76 511.94,299.62 513.40,300.50 514.87,301.39 516.34,302.29 517.81,303.20 519.27,304.12 520.74,305.06 522.21,306.01 523.68,306.97 525.14,307.94 526.61,308.93 528.08,309.93 529.55,310.94 531.01,311.97 532.48,313.01 533.95,314.07 535.42,315.14 536.88,316.23 538.35,317.33 539.82,318.45 541.29,319.58 542.75,320.73 544.22,321.90 545.69,323.09 547.16,324.29 548.62,325.51 550.09,326.75 551.56,328.01 553.03,329.28 554.49,330.58 555.96,331.90 557.43,333.24 558.90,334.60 560.36,335.98 561.83,337.38 563.30,338.81 564.77,340.26 566.23,341.73 567.70,343.23 569.17,344.76 570.64,346.31 572.10,347.88 573.57,349.49 575.04,351.12 576.51,352.78 577.97,354.47 579.44,356.19 580.91,357.94 582.38,359.72 583.84,361.53 585.31,363.38 586.78,365.26 588.25,367.18 589.71,369.14 591.18,371.13 592.65,373.16 594.12,375.23 595.58,377.35 597.05,379.50 598.52,381.70 599.99,383.94 601.45,386.23 602.92,388.57 604.39,390.95 605.86,393.39 607.10,395.50" fill="none" stroke="#bbb" stroke-width="1.0" />
<line x1="450.30" y1="379.50" x2="743.80" y2="379.50" stroke="#444" stroke-width="1.0" />
<polyline points="450.30,270.70 451.77,271.25 453.24,271.80 454.70,272.36 456.17,272.92 457.64,273.49 459.11,274.06 460.57,274.65 462.04,275.23 463.51,275.83 464.98,276.43 466.44,277.03 467.91,277.64 469.38,278.26 470.85,278.89 472.31,279.52 473.78,280.16 475.25,280.81 476.72,281.46 478.18,282.12 479.65,282.79 481.12,283.46 482.59,284.15 484.05,284.84 485.52,285.54 486.99,286.24 488.46,286.96 489.92,287.68 491.39,288.41 492.86,289.15 494.33,289.90 495.79,290.66 497.26,291.42 498.73,292.20 500.20,292.98 501.66,293.78 503.13,294.58 504.60,295.40 506.07,296.22 507.53,297.06 509.00,297.90 510.47,298.76 511.94,299.62 513.40,300.50 514.87,301.39 516.34,302.29 517.81,303.20 519.27,304.12 520.74,305.06 522.21,306.01 523.68,306.97 525.14,307.94 526.61,308.93 528.08,309.93 529.55,310.94 531.01,311.97 532.48,313.01 533.95,314.07 535.42,315.14 536.88,316.23 538.35,317.33 539.82,318.45 541.29,319.58 542.75,320.73 544.22,321.90 545.69,323.09 547.16,324.29 548.62,325.51 550.09,326.75 551.56,328.01 553.03,329.28 554.49,330.58 555.96,331.90 557.43,333.24 558.90,334.60 560.36,335.98 561.83,337.38 563.30,338.81 564.77,340.26 566.23,341.73 567.70,343.23 569.17,344.76 570.64,346.31 572.10,347.88 573.57,349.49 575.04,351.12 576.51,352.78 577.97,354.47 579.44,356.19 580.91,357.94 582.38,359.72 583.84,361.53 585.31,363.38 586.78,365.26 588.25,367.18 589.71,369.14 591.18,371.13 592.65,373.16 594.20,370.10 596.00,382.50 597.20,388.60 598.20,391.00 599.60,384.50 600.50,379.40 730.59,379.40" fill="none" stroke="#f22" stroke-width="1.9" stroke-dasharray="0.01 6.5" stroke-linecap="round"/>
<polyline points="450.40,270.50 480.30,283.20 482.30,280.00 490.60,282.30 494.50,283.90 496.40,287.70 499.00,292.20 504.10,294.10 508.00,293.90 515.70,295.70 524.70,296.10 531.30,296.70 541.60,299.30 548.00,299.00 553.10,300.30 559.60,302.50 567.30,304.40 573.70,307.00 578.80,308.30 582.40,306.70 586.60,312.10 593.00,317.90 599.40,321.80 607.10,325.00 612.60,329.60 617.10,332.10 620.30,327.00 627.40,324.20 633.10,327.60 637.60,332.10 643.40,335.30 648.60,340.50 657.70,346.20 663.50,339.20 668.50,345.40 673.80,353.10 679.20,359.20 682.30,363.10 683.80,370.00 686.20,376.20 687.70,383.10 690.80,389.20 693.50,394.60 694.60,388.50 695.40,377.70 696.20,370.00 696.90,363.10 697.70,368.50 699.20,379.20 740.80,379.40" fill="none" stroke="#22f" stroke-width="1.35" stroke-dasharray="3.5 5.1"/>
<polyline points="450.40,270.50 480.30,283.20 482.30,280.00 490.60,282.30 494.50,283.90 496.40,287.70 499.00,292.20 504.10,294.10 508.00,293.90 515.70,295.70 524.70,296.10 531.30,296.70 541.60,299.30 548.00,299.00 553.10,300.30 559.60,302.50 567.30,304.40 573.70,307.00 578.80,308.30 582.40,306.70 586.60,312.10 593.00,317.90 599.40,321.80 607.10,325.00 612.60,329.60 617.10,332.10 620.30,327.00 627.40,324.20 633.10,327.60 637.60,332.10 643.40,335.30 648.60,340.50 657.70,346.20 663.50,339.20 668.50,345.40 673.80,353.10 679.20,359.20 682.30,363.10 683.80,370.00 686.20,376.20 687.70,383.10 690.80,389.20 693.50,394.60 694.60,388.50 695.40,377.70 696.20,370.00 696.90,363.10 697.70,368.50 699.20,379.20 740.80,379.40" fill="none" stroke="#3d3" stroke-width="1.35" stroke-dasharray="2.5 6.1" stroke-dashoffset="-4.8"/>
<rect x="647.5" y="254.5" width="108" height="57.5" fill="#fff" stroke="#606060" stroke-width="1"/>
<rect x="654.10" y="262.90" width="1.8" height="1.8" fill="#f22"/>
<rect x="654.10" y="282.50" width="1.8" height="1.8" fill="#3d3"/>
<rect x="660.80" y="262.90" width="1.8" height="1.8" fill="#f22"/>
<rect x="660.80" y="282.50" width="1.8" height="1.8" fill="#3d3"/>
<rect x="667.40" y="262.90" width="1.8" height="1.8" fill="#f22"/>
<rect x="667.40" y="282.50" width="1.8" height="1.8" fill="#3d3"/>
<line x1="654.00" y1="273.50" x2="658.90" y2="273.50" stroke="#22f" stroke-width="1.7" />
<line x1="663.50" y1="273.50" x2="667.80" y2="273.50" stroke="#22f" stroke-width="1.7" />
<line x1="654.70" y1="292.80" x2="670.70" y2="292.80" stroke="#ccc" stroke-width="1.7" />
<line x1="654.70" y1="302.30" x2="670.70" y2="302.30" stroke="#444" stroke-width="1.0" />
<text x="678.60" y="266.90" font-size="8.6" textLength="53.60" lengthAdjust="spacingAndGlyphs" >Clinical model</text>
<text x="679.40" y="276.60" font-size="8.6" textLength="49.00" lengthAdjust="spacingAndGlyphs" >DL signature</text>
<text x="678.60" y="286.50" font-size="8.6" textLength="42.00" lengthAdjust="spacingAndGlyphs" >nomogram</text>
<text x="678.60" y="295.90" font-size="8.6" textLength="10.80" lengthAdjust="spacingAndGlyphs" >All</text>
<text x="678.60" y="305.40" font-size="8.6" textLength="21.00" lengthAdjust="spacingAndGlyphs" >None</text>
</svg>
</body></html>
